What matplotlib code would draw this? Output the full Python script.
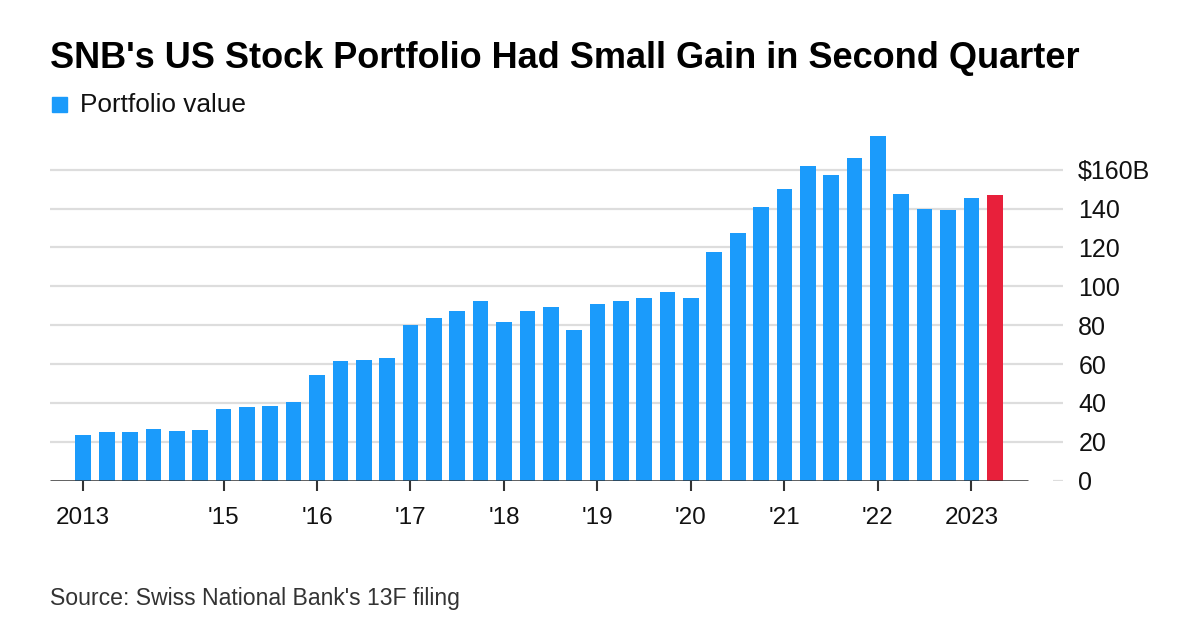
import matplotlib
matplotlib.use('Agg')
import matplotlib.pyplot as plt
import numpy as np

plt.rcParams['font.family'] = ['Liberation Sans', 'DejaVu Sans']

# Quarterly portfolio value, $B (2013 Q3 .. 2023 Q2)
quarters = ['2013Q3', '2013Q4',
            '2014Q1', '2014Q2', '2014Q3', '2014Q4',
            '2015Q1', '2015Q2', '2015Q3', '2015Q4',
            '2016Q1', '2016Q2', '2016Q3', '2016Q4',
            '2017Q1', '2017Q2', '2017Q3', '2017Q4',
            '2018Q1', '2018Q2', '2018Q3', '2018Q4',
            '2019Q1', '2019Q2', '2019Q3', '2019Q4',
            '2020Q1', '2020Q2', '2020Q3', '2020Q4',
            '2021Q1', '2021Q2', '2021Q3', '2021Q4',
            '2022Q1', '2022Q2', '2022Q3', '2022Q4',
            '2023Q1', '2023Q2']
values = [23.5, 25.2, 24.9, 26.6, 25.7, 26.2,
          37.0, 38.1, 38.6, 40.6,
          54.2, 61.6, 62.1, 63.1,
          80.1, 83.9, 87.5, 92.3,
          81.8, 87.1, 89.4, 77.5,
          90.9, 92.4, 93.8, 97.2,
          93.8, 117.8, 127.4, 140.6,
          149.9, 161.9, 157.1, 165.8,
          177.3, 147.5, 139.6, 139.3,
          145.6, 147.0]
tick_quarters = ['2013Q3', '2015Q1', '2016Q1', '2017Q1', '2018Q1', '2019Q1',
                 '2020Q1', '2021Q1', '2022Q1', '2023Q1']
tick_labels = ['2013', "'15", "'16", "'17", "'18", "'19", "'20", "'21", "'22", '2023']
y_ticks = [0, 20, 40, 60, 80, 100, 120, 140, 160]
y_labels = ['0', '20', '40', '60', '80', '100', '120', '140', '$160B']

blue = '#1b9bfb'
red = '#e8203b'
W, H = 1200, 632

fig = plt.figure(figsize=(12, 6.32), dpi=100)
ax = fig.add_axes([50 / W, 1 - 480.7 / H, (1063 - 50) / W, (480.7 - 130.8) / H])

x = np.arange(len(values))
colors = [blue] * (len(values) - 1) + [red]
ax.bar(x, values, width=0.67, color=colors, zorder=3)

ax.set_xlim(-1.425, 41.92)
ax.set_ylim(0, 180)

# gridlines
for v in y_ticks[1:]:
    ax.axhline(v, color='#dddddd', lw=1.6, zorder=1)
ax.hlines(0, -1.425, 40.42, color='#333333', lw=1.8, zorder=4)
ax.hlines(0, 41.5, 41.92, color='#dddddd', lw=1.6, zorder=1)

for s in ax.spines.values():
    s.set_visible(False)

ax.set_xticks([quarters.index(q) for q in tick_quarters])
ax.set_xticklabels(tick_labels)
ax.tick_params(axis='x', length=7, width=1.5, color='#333333', pad=12,
               labelsize=17.5, labelcolor='#111111')

ax.yaxis.tick_right()
ax.set_yticks(y_ticks)
ax.set_yticklabels(y_labels)
ax.tick_params(axis='y', length=0, pad=11, labelsize=18, labelcolor='#111111')


def fit_text(xp, yp, s, target_w, size, **kw):
    t = fig.text(xp / W, 1 - yp / H, s, fontsize=size, **kw)
    r = fig.canvas.get_renderer()
    w = t.get_window_extent(renderer=r).width
    t.set_fontsize(size * target_w / w)
    return t


fit_text(50, 68, "SNB's US Stock Portfolio Had Small Gain in Second Quarter",
         1028, 22, fontweight='bold', va='baseline', color='#000000')

# legend
fig.patches.append(plt.Rectangle((52 / W, 1 - 112 / H), 15 / W, 15 / H,
                                 transform=fig.transFigure, color=blue, figure=fig))
fit_text(80, 104.5, 'Portfolio value', 166, 18, va='center', color='#111111')

fit_text(50, 599, "Source: Swiss National Bank's 13F filing", 413, 16,
         va='center', color='#333333')

fig.savefig('out.png', dpi=100)
